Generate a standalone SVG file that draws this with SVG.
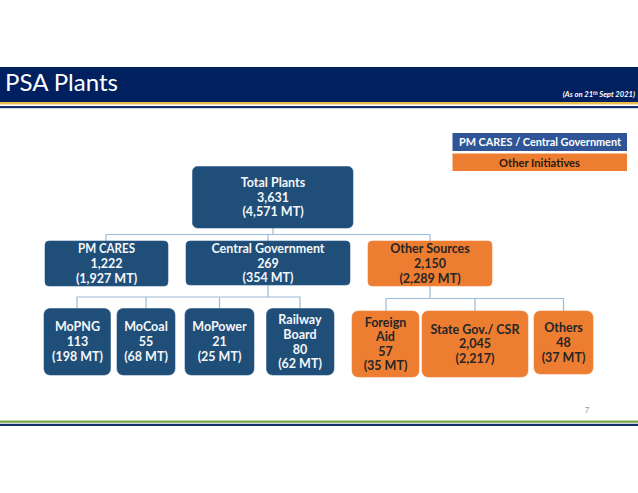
<svg xmlns="http://www.w3.org/2000/svg" width="638" height="493" viewBox="0 0 638 493">
<style>
text{font-family:"Lato","Liberation Sans",sans-serif}
.n text{font-size:12.5px;font-weight:700;text-anchor:middle}
.lg{font-size:11.2px;font-weight:700;text-anchor:middle}
.b rect{fill:#1f4e79;stroke:#2c5c8a;stroke-width:.6}
.b text{fill:#f4f7fa}
.o rect{fill:#ed7d31;stroke:#f08a45;stroke-width:.6}
.o text{fill:#262626}
#connectors path{fill:none;stroke:#9dbad6;stroke-width:1.2}
</style>
<rect width="638" height="493" fill="#fff"/>
<g id="header">
<rect x="0" y="67" width="638" height="35" fill="#00205f"/>
<rect x="0" y="102" width="638" height="2.400" fill="#e8bf4e"/>
<rect x="0" y="106" width="638" height="2.200" fill="#14306b"/>
<text x="5" y="90.800" font-size="23.500" fill="#fff" textLength="113" lengthAdjust="spacingAndGlyphs">PSA Plants</text>
<text x="635" y="97" font-size="7.600" font-weight="700" font-style="italic" fill="#fff" text-anchor="end">(As on 21<tspan font-size="5" dy="-2.500">th</tspan><tspan dy="2.500"> Sept 2021)</tspan></text>
</g>
<g id="legend">
<rect x="452.500" y="133" width="174.500" height="18" fill="#2f5597"/>
<text class="lg" x="540" y="146.300" fill="#fff" textLength="162" lengthAdjust="spacingAndGlyphs">PM CARES / Central Government</text>
<rect x="452.500" y="153.500" width="174.500" height="17.500" fill="#ed7d31"/>
<text class="lg" x="539.500" y="166.500" fill="#2a1a10" textLength="81" lengthAdjust="spacingAndGlyphs">Other Initiatives</text>
</g>
<g id="connectors">
<path d="M273 228V234.500M106 241V234.500H430V241M268 234.500V241"/>
<path d="M268 285V297M77 308.500V297H300V308.500M146 297V308.500M219.500 297V308.500"/>
<path d="M430 286V298.500M386 311V298.500H563.500V311M475 298.500V311"/>
</g>
<g id="total" class="n b"><rect x="192.500" y="166.500" width="160.500" height="61.500" rx="5"/><text x="273" y="187">Total Plants</text><text x="273" y="201.600">3,631</text><text x="273" y="216.200">(4,571 MT)</text></g>
<g id="pm-cares" class="n b"><rect x="45" y="241" width="123" height="45" rx="4"/><text x="106.500" y="253" textLength="57" lengthAdjust="spacingAndGlyphs">PM CARES</text><text x="106.500" y="268">1,222</text><text x="106.500" y="282.500">(1,927 MT)</text></g>
<g id="central-government" class="n b"><rect x="186" y="241" width="164" height="44" rx="4"/><text x="268" y="252.500">Central Government</text><text x="268" y="267.500">269</text><text x="268" y="282">(354 MT)</text></g>
<g id="other-sources" class="n o"><rect x="368" y="241" width="124" height="45" rx="4"/><text x="430" y="253">Other Sources</text><text x="430" y="268">2,150</text><text x="430" y="282.500">(2,289 MT)</text></g>
<g id="mopng" class="n b"><rect x="44" y="308.500" width="66.500" height="66.500" rx="6"/><text x="77.500" y="331">MoPNG</text><text x="77.500" y="346">113</text><text x="77.500" y="360.500">(198 MT)</text></g>
<g id="mocoal" class="n b"><rect x="117" y="308.500" width="58" height="66.500" rx="6"/><text x="146" y="331">MoCoal</text><text x="146" y="346">55</text><text x="146" y="360.500">(68 MT)</text></g>
<g id="mopower" class="n b"><rect x="185" y="308.500" width="69" height="66.500" rx="6"/><text x="219.500" y="331">MoPower</text><text x="219.500" y="346">21</text><text x="219.500" y="360.500">(25 MT)</text></g>
<g id="railway-board" class="n b"><rect x="266.500" y="308.500" width="67.500" height="66.500" rx="6"/><text x="300" y="324">Railway</text><text x="300" y="339">Board</text><text x="300" y="353.500">80</text><text x="300" y="368">(62 MT)</text></g>
<g id="foreign-aid" class="n o"><rect x="352" y="311" width="67" height="66" rx="6"/><text x="385.500" y="326.500">Foreign</text><text x="385.500" y="341">Aid</text><text x="385.500" y="355.500">57</text><text x="385.500" y="370">(35 MT)</text></g>
<g id="state-gov" class="n o"><rect x="422" y="311" width="106" height="66" rx="6"/><text x="475" y="333.500">State Gov./ CSR</text><text x="475" y="348">2,045</text><text x="475" y="362.500">(2,217)</text></g>
<g id="others" class="n o"><rect x="534" y="311" width="59" height="63" rx="6"/><text x="563.500" y="332">Others</text><text x="563.500" y="347">48</text><text x="563.500" y="361.500">(37 MT)</text></g>
<text id="page" x="587" y="413" font-size="7.500" fill="#9a9a9a" text-anchor="middle">7</text>
<g id="footer">
<rect x="0" y="420.500" width="638" height="2.300" fill="#7aa84f"/>
<rect x="0" y="423.800" width="638" height="2.200" fill="#14306b"/>
</g>
</svg>
